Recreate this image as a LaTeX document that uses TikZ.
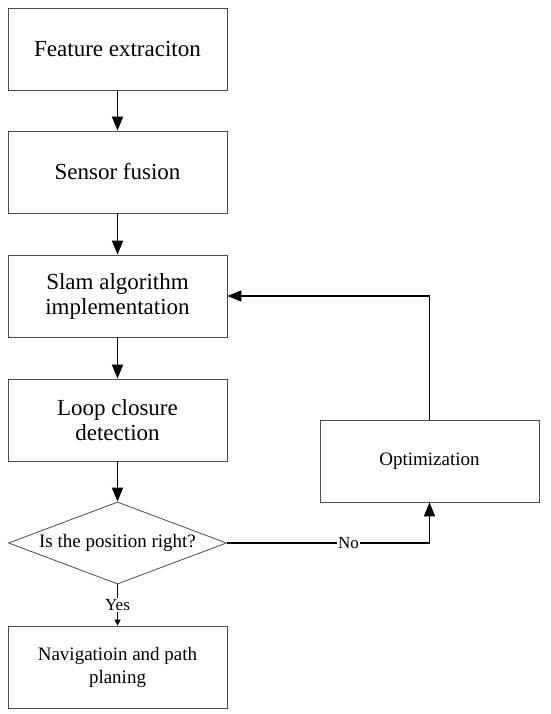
\documentclass[tikz,border=0pt]{standalone}
\usepackage{fontspec}
\setmainfont{Liberation Serif}
\usetikzlibrary{shapes.geometric, arrows.meta, positioning}

\begin{document}
\begin{tikzpicture}[x=1pt, y=-1pt,
  stepbox/.style={draw=black!70, line width=0.8pt, minimum width=219pt, minimum height=82pt,
    inner sep=2pt, align=center, font=\fontsize{23}{25}\selectfont},
  smallbox/.style={stepbox, font=\fontsize{19}{23}\selectfont},
  decision/.style={diamond, draw=black!70, line width=0.8pt, aspect=2.66, inner sep=0pt,
    minimum width=218pt, minimum height=82pt, font=\fontsize{19}{23}\selectfont},
  flow/.style={line width=1.8pt, -{Triangle[length=14pt, width=11pt]}},
  answer/.style={fill=white, inner sep=1pt, font=\fontsize{17}{20}\selectfont}
]
  \useasboundingbox (0,0) rectangle (550,714);

  \node[stepbox] (feat) at (117.5,49) {Feature extraciton};
  \node[stepbox] (fusion) at (117.5,172) {Sensor fusion};
  \node[stepbox] (slam) at (117.5,296) {Slam algorithm\\implementation};
  \node[stepbox] (loop) at (117.5,420) {Loop closure\\detection};
  \node[decision] (check) at (117.5,543) {Is the position right?};
  \node[smallbox] (nav) at (117.5,667) {Navigatioin and path\\planing};
  \node[smallbox] (opt) at (429.5,461) {Optimization};

  \draw[flow] (feat) -- (fusion);
  \draw[flow] (fusion) -- (slam);
  \draw[flow] (slam) -- (loop);
  \draw[flow] (loop) -- (check);
  \draw[line width=1.8pt, -{Triangle[length=6pt, width=6pt]}] (check) -- node[answer] {Yes} (nav);
  \draw[flow] (check.east) -| node[answer, pos=0.3] {No} (opt.south);
  \draw[flow] (opt.north) |- (slam.east);
\end{tikzpicture}
\end{document}
